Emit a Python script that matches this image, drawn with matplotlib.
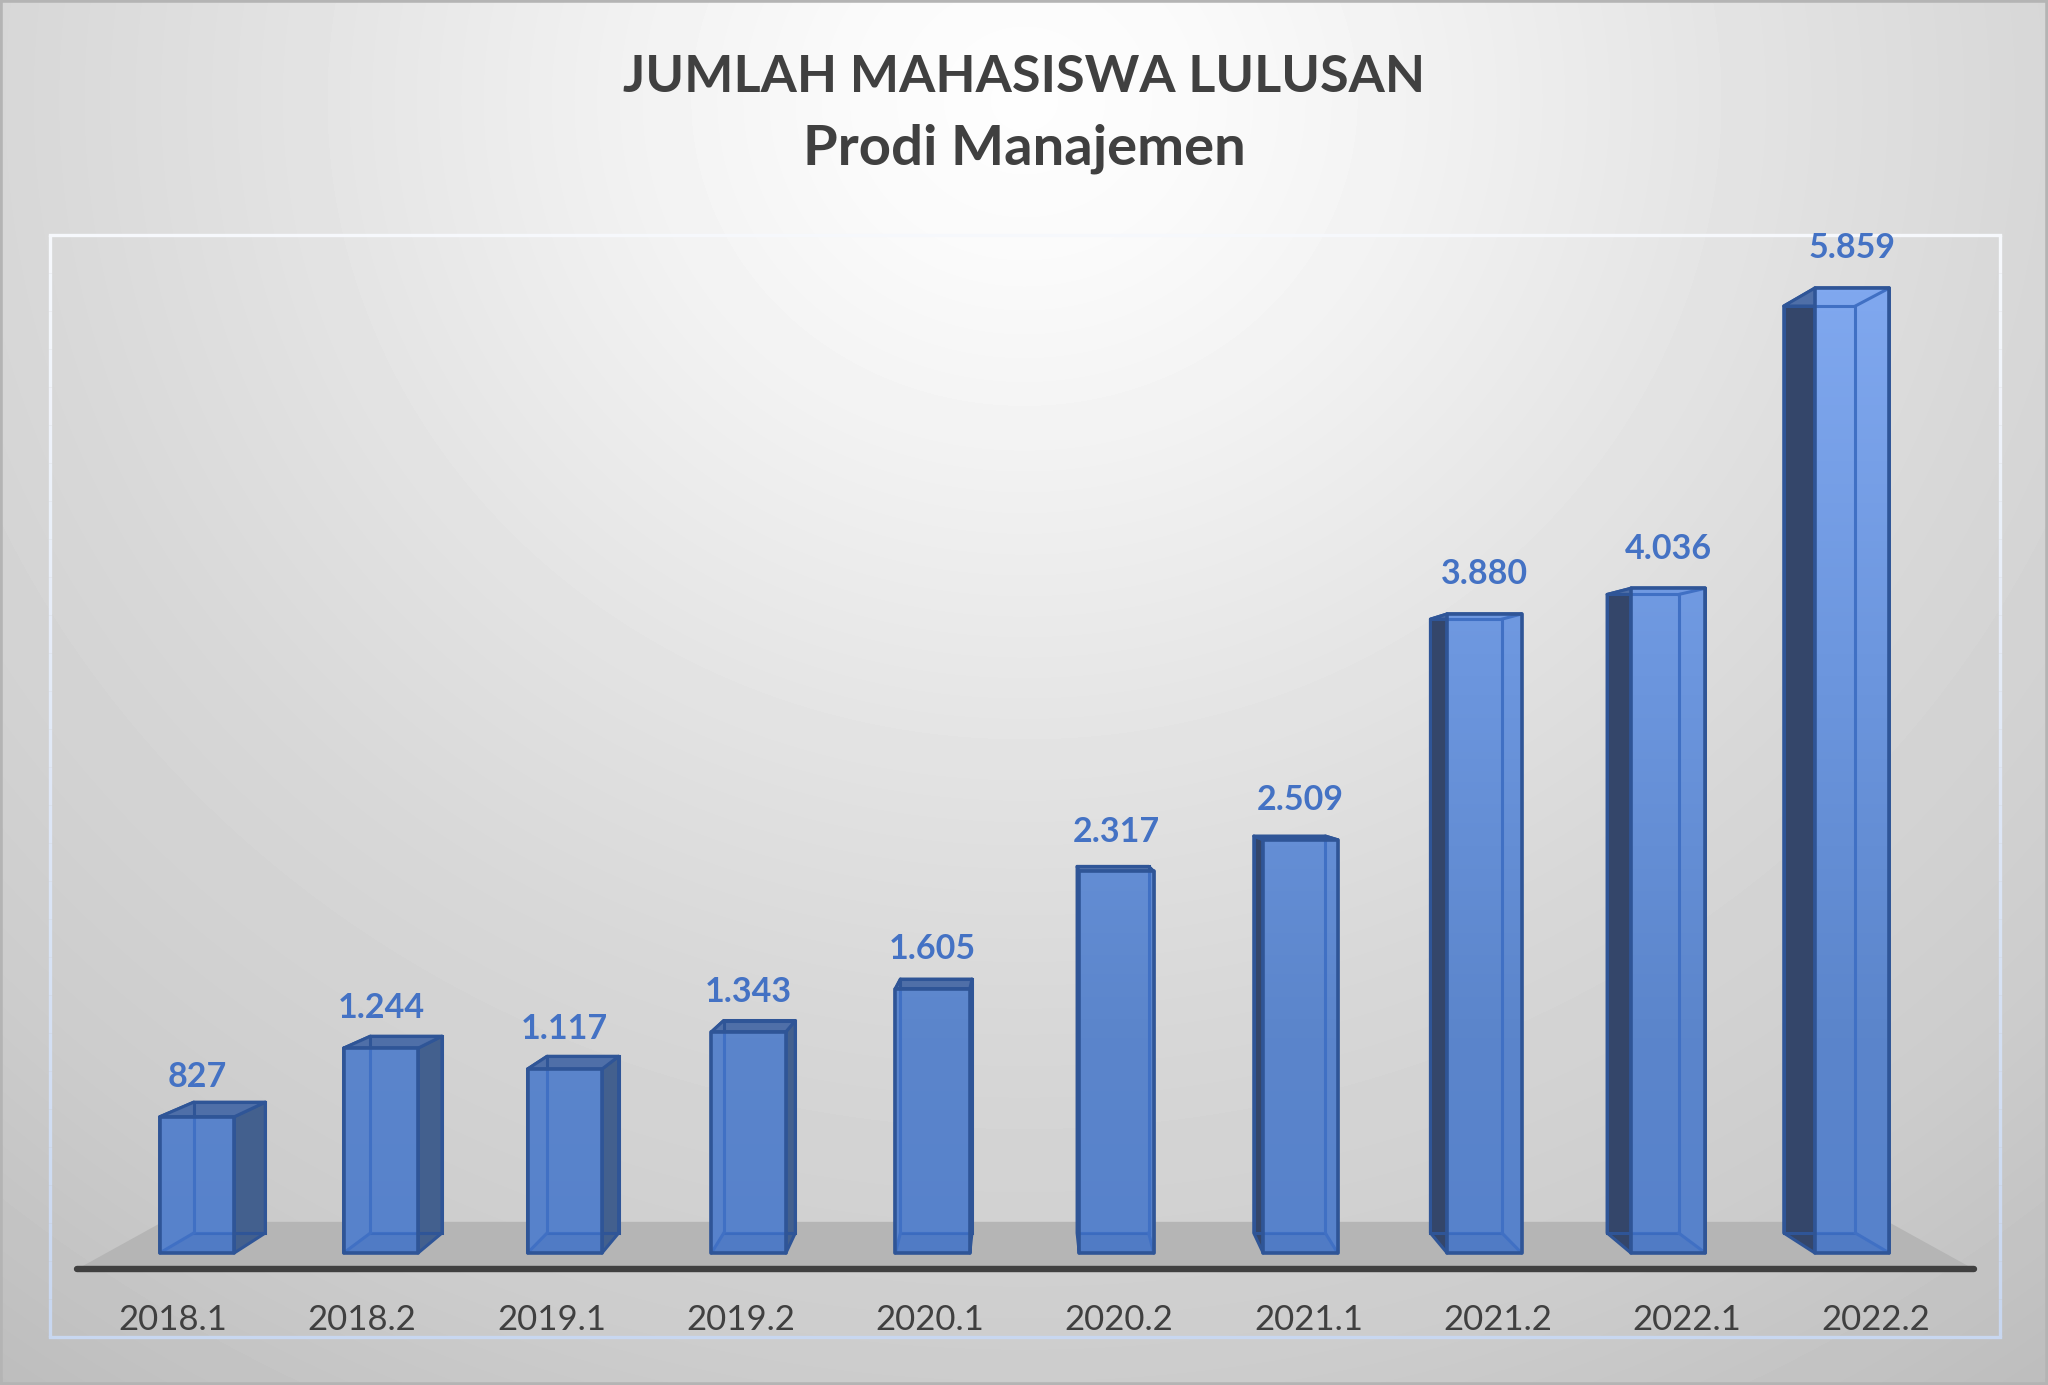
import numpy as np
import matplotlib
matplotlib.use("Agg")
import matplotlib.pyplot as plt
from matplotlib.colors import LinearSegmentedColormap
from matplotlib.collections import LineCollection
from matplotlib.patches import Polygon, Rectangle
from matplotlib.path import Path

# data
periods = ["2018.1", "2018.2", "2019.1", "2019.2", "2020.1",
           "2020.2", "2021.1", "2021.2", "2022.1", "2022.2"]
lulusan = [827, 1244, 1117, 1343, 1605, 2317, 2509, 3880, 4036, 5859]
title_lines = ["JUMLAH MAHASISWA LULUSAN", "Prodi Manajemen"]

W, H = 2048, 1385
plt.rcParams["font.family"] = ["Lato", "DejaVu Sans"]

fig = plt.figure(figsize=(W / 100, H / 100), dpi=100)

# background gradient
bg = fig.add_axes([0, 0, 1, 1], zorder=-1)
yy, xx = np.mgrid[0:H, 0:W]
t = np.hypot((xx - 1024) / 1200, (yy - 100) / 1100)
bg.imshow(np.interp(t, [0, 0.15, 0.3, 0.45, 0.65, 0.84, 1.17, 1.45],
                    [0.995, 0.98, 0.953, 0.922, 0.88, 0.845, 0.80, 0.74]),
          cmap="gray", vmin=0, vmax=1, aspect="auto")
bg.axis("off")
fig.add_artist(Rectangle((0, 0), 1, 1, transform=fig.transFigure, fill=False,
                         ec="#b4b4b4", lw=4))

# plot area, frame is 50..2000 x 235..1337 px
ax = fig.add_axes([50 / W, (H - 1337) / H, 1950 / W, 1102 / H])
ax.patch.set_visible(False)
ax.axis("off")
ax.set_xlim(-0.799, 9.804)
ax.set_ylim(-510, 6181)

VP = np.array([4.5, 3084.0])    # vanishing point of the fake 3D
DEPTH = 0.0394
FLOOR_DEPTH = 0.09
BAR_W = 0.405


def back(p, k=DEPTH):
    p = np.asarray(p, dtype=float)
    return p + k * (VP - p)


# floor and axis line
floor_y = -97
fl = np.array([[-0.65, floor_y], [9.66, floor_y]])
ax.add_patch(Polygon([fl[0], fl[1], back(fl[1], FLOOR_DEPTH), back(fl[0], FLOOR_DEPTH)],
                     fc="#b5b5b5", ec="none", zorder=1))
ax.plot(fl[:, 0], fl[:, 1], color="#404040", lw=4.6, solid_capstyle="round", zorder=2)

# bars
DARK = "#2f5597"
INNER = "#4070c4"
front_paths = []
for i, v in enumerate(lulusan):
    x0, x1 = i - BAR_W / 2, i + BAR_W / 2
    f = np.array([[x0, 0], [x1, 0], [x1, v], [x0, v]])
    b = back(f)
    left = [f[0], b[0], b[3], f[3]]
    right = [f[1], b[1], b[2], f[2]]
    top = [f[3], f[2], b[2], b[3]]
    bottom = [f[0], f[1], b[1], b[0]]
    ax.add_patch(Polygon(left, fc="#34466a", ec=DARK, lw=2.2, zorder=3, joinstyle="round"))
    ax.add_patch(Polygon(right, fc="#43608e", ec=DARK, lw=2.2, zorder=3, joinstyle="round"))
    ax.add_patch(Polygon(top, fc="#4f6fa8", ec=DARK, lw=2.2, zorder=3, joinstyle="round"))
    ax.add_patch(Polygon(b, fill=False, ec=DARK, lw=2.2, zorder=3))
    front_paths.append(Path(np.vstack([f, f[0]]), closed=True))

    # see-through edges, only inside the front face
    clip = Rectangle((x0, 0), x1 - x0, v, transform=ax.transData)
    inner = Polygon(b, fill=False, ec=INNER, lw=2.2, zorder=5)
    ax.add_patch(inner)
    inner.set_clip_path(clip)
    shade = Polygon(bottom, fc="#1f4fa0", alpha=0.12, ec="none", zorder=5)
    ax.add_patch(shade)
    shade.set_clip_path(clip)
    for a, c in zip(f, b):
        ln, = ax.plot([a[0], c[0]], [a[1], c[1]], color=INNER, lw=2.2, zorder=5)
        ln.set_clip_path(clip)

    ax.add_patch(Polygon(f, fill=False, ec=DARK, lw=2.6, zorder=6, joinstyle="round"))
    ax.text(i, v + 241, f"{v:,}".replace(",", "."), ha="center", va="center",
            color="#4472c4", fontsize=24.5, fontweight="bold", zorder=7, clip_on=False)

# front faces share one vertical colour ramp
ramp = LinearSegmentedColormap.from_list(
    "ramp", [(0, "#5782cb"), (0.22, "#5b85cb"), (0.6, "#6c96de"), (1, "#80a8ef")])
grad = ax.imshow(np.linspace(0, 1, 256)[:, None], cmap=ramp, origin="lower",
                 extent=[-1, 10, 0, 5859], aspect="auto", zorder=4)
grad.set_clip_path(Path.make_compound_path(*front_paths), ax.transData)
ax.set_xlim(-0.799, 9.804)
ax.set_ylim(-510, 6181)

# category labels sit on the nearer plane, slightly wider spaced than the bars
for i, lab in enumerate(periods):
    ax.text(4.5 + 1.029 * (i - 4.5), -405, lab, ha="center", va="center",
            color="#404040", fontsize=25, zorder=7)

# frame: white at the top, pale blue at the bottom
frame_cmap = LinearSegmentedColormap.from_list("frame", ["#f6f8fc", "#c8d7f0"])
ys = np.linspace(235, 1337, 30)
segs, vals = [], []
for px in (50, 2000):
    for a, c in zip(ys[:-1], ys[1:]):
        segs.append([(px, H - a), (px, H - c)])
        vals.append((a - 235) / 1102)
lc = LineCollection(segs, array=np.array(vals), cmap=frame_cmap, lw=2.4,
                    transform=None, zorder=0)
fig.add_artist(lc)
fig.add_artist(plt.Line2D([50 / W, 2000 / W], [(H - 235) / H] * 2, color="#f6f8fc", lw=2.4,
                          transform=fig.transFigure, zorder=0))
fig.add_artist(plt.Line2D([50 / W, 2000 / W], [(H - 1337) / H] * 2, color="#c8d7f0", lw=2.4,
                          transform=fig.transFigure, zorder=0))

# title
fig.text(0.5, (H - 78) / H, title_lines[0], ha="center", va="center",
         color="#404040", fontsize=37.5, fontweight="bold")
fig.text(0.5, (H - 149) / H, title_lines[1], ha="center", va="center",
         color="#404040", fontsize=40.5, fontweight="bold")

fig.savefig("out.png", dpi=100)
